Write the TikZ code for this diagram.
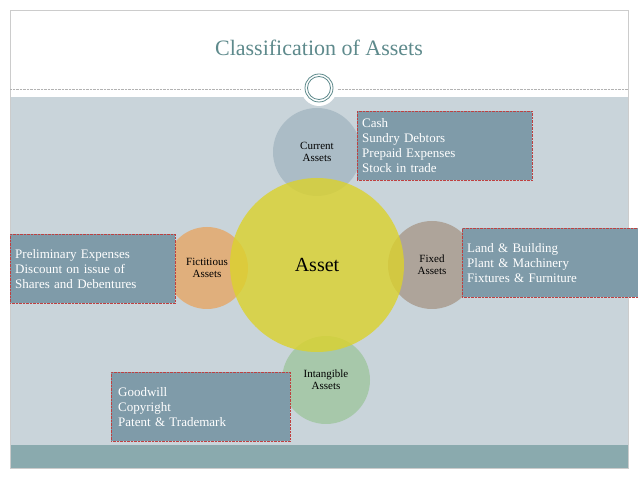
\documentclass[tikz,border=0pt]{standalone}
\usepackage{fontspec}
\setmainfont{Liberation Serif}
\begin{document}
\begin{tikzpicture}[x=1pt,y=-1pt,
  lst/.style={draw=red!50!gray,densely dotted,fill=boxc,anchor=north west,minimum height=69,text=white,font=\fontsize{13}{15}\selectfont,align=left,inner sep=5pt,text width=#1},
  cat/.style={circle,minimum size=#1,font=\fontsize{11}{12}\selectfont,align=center,fill opacity=0.8,text opacity=1}]
\definecolor{boxc}{HTML}{7F9BA9}
\definecolor{panel}{HTML}{C9D4DA}
\definecolor{band}{HTML}{8AAAAE}
\definecolor{titlec}{HTML}{5E8A8C}
\useasboundingbox (0,0) rectangle (638,478);
\fill[white] (0,0) rectangle (638,478);
\fill[panel] (10,97) rectangle (628,445);
\fill[band] (10,445) rectangle (628,468);
\draw[gray!40] (10,10) rectangle (628,468);
\draw[gray!60,densely dotted] (10,89) -- (628,89);
\node[text=titlec,font=\fontsize{22}{24}\selectfont] (title) at (319,48) {Classification of Assets};
\node[circle,fill=white,minimum size=36] (orn) at (319,88) {};
\draw[titlec,line width=0.8] (319,88) circle (14);
\draw[titlec,line width=0.8] (319,88) circle (11.5);
\node[cat=88,fill=boxc!50!panel] (cur) at (317,152) {Current\\Assets};
\node[cat=88,fill=gray!70!brown!80] (fix) at (432,265) {Fixed\\Assets};
\node[cat=82,fill=orange!45!brown!70] (fic) at (207,268) {Fictitious\\Assets};
\node[cat=88,fill=green!25!gray!60] (int) at (326,380) {Intangible\\Assets};
\node[circle,minimum size=174,fill=yellow!60!olive!80,fill opacity=0.8,text opacity=1,font=\fontsize{20}{22}\selectfont] (asset) at (317,265) {Asset};
\node[lst=165] (l1) at (357,111) {Cash\\Sundry Debtors\\Prepaid Expenses\\Stock in trade};
\node[lst=166] (l2) at (462,228) {Land \& Building\\Plant \& Machinery\\Fixtures \& Furniture};
\node[lst=155] (l3) at (10,234) {Preliminary Expenses\\Discount on issue of\\Shares and Debentures};
\node[lst=165,inner sep=7pt] (l4) at (111,372) {Goodwill\\Copyright\\Patent \& Trademark};
\end{tikzpicture}
\end{document}
